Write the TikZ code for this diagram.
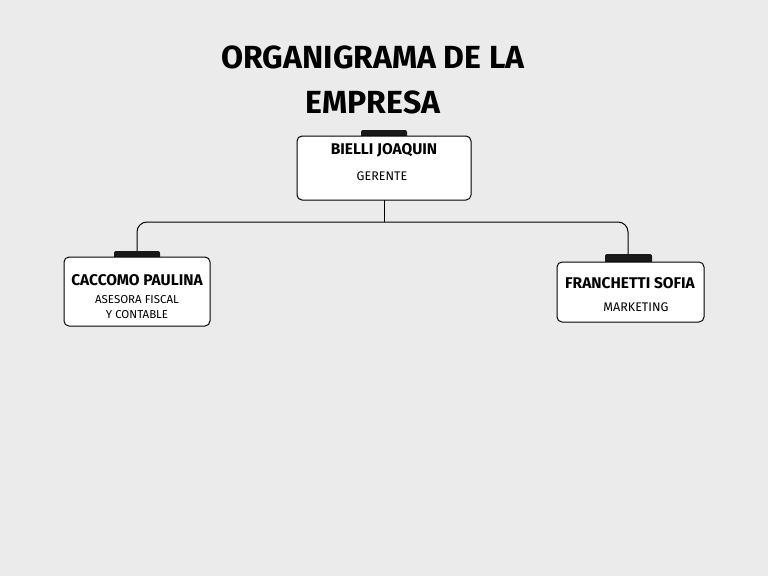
\documentclass[tikz,border=0pt]{standalone}
\usepackage{fontspec}
\setmainfont{Fira Sans}
\begin{document}
\begin{tikzpicture}[x=1pt,y=-1pt,
  card/.style={draw=black,line width=1pt,fill=white,rounded corners=5pt},
  tab/.style={fill=black!90,rounded corners=2pt},
  nm/.style={font=\fontsize{15.5}{17}\selectfont\bfseries},
  rl/.style={font=\fontsize{12.5}{15}\selectfont, align=center},
  conn/.style={line width=1pt,rounded corners=10pt}]
\fill[black!8] (0,0) rectangle (768,576);
\useasboundingbox (0,0) rectangle (768,576);
\node[font=\fontsize{32}{45}\selectfont\bfseries,align=center] (title) at (373,80) {ORGANIGRAMA DE LA\\EMPRESA};
% tabs
\fill[tab] (361,130) rectangle (407,138);
\fill[tab] (114,251) rectangle (160,259);
\fill[tab] (605,254) rectangle (652,263);
\draw[card] (297,136) rectangle (471,200);
\draw[card] (64,257) rectangle (210,326);
\draw[card] (557,262) rectangle (704,322);
\node[nm] (b) at (384,150) {BIELLI JOAQUIN};
\node[rl] (br) at (382,176) {GERENTE};
\node[nm] (c) at (137,280) {CACCOMO PAULINA};
\node[rl,font=\fontsize{11.5}{15}\selectfont] (cr) at (137,307) {ASESORA FISCAL\\Y CONTABLE};
\node[nm] (f) at (630,283) {FRANCHETTI SOFIA};
\node[rl] (fr) at (636,307) {MARKETING};
\coordinate (bt) at (384,200);
\coordinate (ct) at (137,251);
\coordinate (ft) at (628,254);
\draw[line width=1pt] (bt) -- (384,222);
\draw[conn] (ct) |- (384,222) -| (ft);
\end{tikzpicture}
\end{document}
